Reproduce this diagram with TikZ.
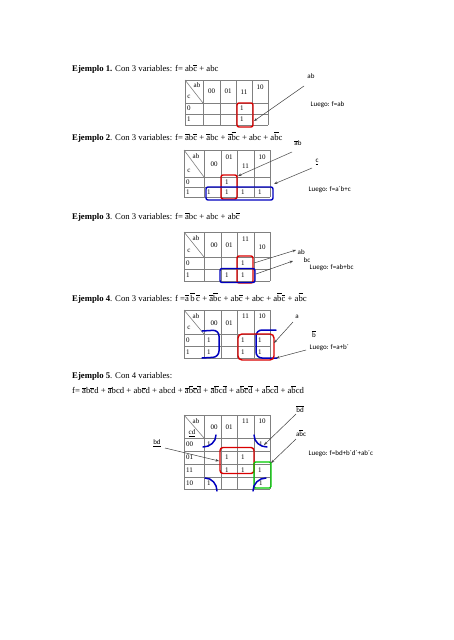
\documentclass[tikz,border=0pt]{standalone}
\usepackage{fontspec}
\setmainfont{Liberation Serif}
\newfontfamily\labfont{Carlito}
\usetikzlibrary{arrows.meta}
\newcommand\ov[1]{$\overline{\hbox{#1}}$}
\begin{document}
\begin{tikzpicture}[x=1pt,y=-1pt,
  gridl/.style={draw=black!50, line width=0.6pt},
  ttl/.style={anchor=west, font=\fontsize{8.7}{10}\selectfont, inner sep=0pt},
  cell/.style={font=\fontsize{7}{8}\selectfont, inner sep=0pt},
  val/.style={font=\fontsize{7}{8}\selectfont, inner sep=0pt, anchor=west},
  lbl/.style={font=\labfont\fontsize{7}{8}\selectfont, inner sep=0.5pt},
  arr/.style={draw=black!75, line width=0.5pt, -{Stealth[length=3.5pt,width=2.6pt]}},
  redbox/.style={draw=red!85!black, line width=1.4pt, rounded corners=2pt},
  bluebox/.style={draw=blue!75!black, line width=1.4pt, rounded corners=2pt},
  greenbox/.style={draw=green!80!black, line width=1.4pt, rounded corners=1.5pt},
  bluec/.style={draw=blue!75!black, line width=1.5pt, line cap=round}]
\useasboundingbox (0,0) rectangle (453,640);
\fill[white] (0,0) rectangle (453,640);

% ---------------- Ejemplo 1 ----------------
\node[ttl] (t1) at (72,69) {\textbf{Ejemplo 1.} Con 3 variables: f= ab\ov{c} + abc};
\foreach \yy in {80,103,114,125} \draw[gridl] (185,\yy) -- (268,\yy);
\foreach \xx in {185,203,220,236,252,268} \draw[gridl] (\xx,80) -- (\xx,125);
\draw[gridl] (185,80) -- (203,103);
\node[cell] (h1ab) at (197,85) {ab};
\node[cell] (h1c) at (189,97) {c};
\node[cell] (h100) at (211.5,91) {00};
\node[cell] (h101) at (228,91) {01};
\node[cell] (h111) at (244,92) {11};
\node[cell] (h110) at (260,87) {10};
\node[val] (r10) at (187,108.5) {0};
\node[val] (r11) at (187,119.5) {1};
\node[val] (v1a) at (240,108.5) {1};
\node[val] (v1b) at (240,119.5) {1};
\node[redbox, minimum width=16pt, minimum height=24pt] (rb1) at (245,115) {};
\node[lbl] (l1) at (311,76) {ab};
\coordinate (s1) at (304,86);
\coordinate (e1) at (254,121);
\draw[arr] (s1) -- (e1);
\node[lbl, anchor=west] (g1) at (310,105) {Luego: f=ab};

% ---------------- Ejemplo 2 ----------------
\node[ttl] (t2) at (72,137) {\textbf{Ejemplo 2}. Con 3 variables: f= \ov{a}b\ov{c} + \ov{a}bc + \ov{a}\ov{b}c + abc + a\ov{b}c};
\foreach \yy in {150,177,187,197} \draw[gridl] (184,\yy) -- (270,\yy);
\foreach \xx in {184,204,221,237,254,270} \draw[gridl] (\xx,150) -- (\xx,197);
\draw[gridl] (184,150) -- (204,177);
\node[cell] (h2ab) at (196,156) {ab};
\node[cell] (h2c) at (189,171) {c};
\node[cell] (h200) at (214,164) {00};
\node[cell] (h201) at (229,157) {01};
\node[cell] (h211) at (245.5,166) {11};
\node[cell] (h210) at (262,157) {10};
\node[val] (r20) at (186,182) {0};
\node[val] (r21) at (186,192) {1};
\node[val] (v2a) at (225,182) {1};
\node[val] (v2b) at (207,192) {1};
\node[val] (v2c) at (225,192) {1};
\node[val] (v2d) at (241,192) {1};
\node[val] (v2e) at (258,192) {1};
\node[redbox, minimum width=16pt, minimum height=24pt] (rb2) at (229,187) {};
\node[bluebox, minimum width=67pt, minimum height=13pt] (bb2) at (239.5,193.5) {};
\node[lbl] (l2a) at (298,143) {\ov{a}b};
\node[lbl] (l2b) at (317,162) {\underline{c}};
\coordinate (s2a) at (292,152);
\coordinate (e2a) at (238,176);
\coordinate (s2b) at (312,168);
\coordinate (e2b) at (274,184);
\draw[arr] (s2a) -- (e2a);
\draw[arr] (s2b) -- (e2b);
\node[lbl, anchor=west] (g2) at (308,190) {Luego: f=a´b+c};

% ---------------- Ejemplo 3 ----------------
\node[ttl] (t3) at (72,217) {\textbf{Ejemplo 3}. Con 3 variables: f= \ov{a}bc + abc + ab\ov{c}};
\foreach \yy in {232,257,269,281} \draw[gridl] (184,\yy) -- (270,\yy);
\foreach \xx in {184,204,221,237,254,270} \draw[gridl] (\xx,232) -- (\xx,281);
\draw[gridl] (184,232) -- (204,257);
\node[cell] (h3ab) at (196,238) {ab};
\node[cell] (h3c) at (189,251) {c};
\node[cell] (h300) at (214,245) {00};
\node[cell] (h301) at (229,245) {01};
\node[cell] (h311) at (245.5,239) {11};
\node[cell] (h310) at (262,247) {10};
\node[val] (r30) at (186,263) {0};
\node[val] (r31) at (186,275) {1};
\node[val] (v3a) at (241,263) {1};
\node[val] (v3b) at (225,275) {1};
\node[val] (v3c) at (241,275) {1};
\node[redbox, minimum width=16pt, minimum height=27pt] (rb3) at (245,269.5) {};
\node[bluebox, minimum width=35pt, minimum height=14pt] (bb3) at (237.5,275.5) {};
\node[lbl, anchor=west] (l3a) at (297,252) {ab};
\node[lbl, anchor=west] (l3b) at (303,260) {bc};
\coordinate (s3a) at (254,263);
\coordinate (e3a) at (296,250);
\coordinate (s3b) at (256,274);
\coordinate (e3b) at (293,261);
\draw[arr] (s3a) -- (e3a);
\draw[arr] (s3b) -- (e3b);
\node[lbl, anchor=west] (g3) at (309,268) {Luego: f=ab+bc};

% ---------------- Ejemplo 4 ----------------
\node[ttl] (t4) at (72,298) {\textbf{Ejemplo 4}. Con 3 variables: f =\ov{a}\,\ov{b}\,\ov{c} + \ov{a}\ov{b}c + ab\ov{c} + abc + a\ov{b}\ov{c} + a\ov{b}c};
\foreach \yy in {310,334,346,358} \draw[gridl] (184,\yy) -- (270,\yy);
\foreach \xx in {184,204,221,237,254,270} \draw[gridl] (\xx,310) -- (\xx,358);
\draw[gridl] (184,310) -- (204,334);
\node[cell] (h4ab) at (196,316) {ab};
\node[cell] (h4c) at (189,328) {c};
\node[cell] (h400) at (214,323) {00};
\node[cell] (h401) at (229,323) {01};
\node[cell] (h411) at (245.5,316) {11};
\node[cell] (h410) at (262,316) {10};
\node[val] (r40) at (186,340) {0};
\node[val] (r41) at (186,352) {1};
\node[val] (v4a) at (207,340) {1};
\node[val] (v4b) at (241,340) {1};
\node[val] (v4c) at (258,340) {1};
\node[val] (v4d) at (207,352) {1};
\node[val] (v4e) at (241,352) {1};
\node[val] (v4f) at (258,352) {1};
\draw[bluec, rounded corners=6pt] (202,331) -- (219,330) -- (219,357) -- (202,358);
\draw[bluec, rounded corners=6pt] (276,330) -- (256,330) -- (256,358) -- (277,358);
\node[redbox, rounded corners=4pt, minimum width=36pt, minimum height=26pt] (rb4) at (256,347) {};
\node[lbl] (l4a) at (297,317) {a};
\node[lbl] (l4b) at (314,334) {\ov{b}};
\coordinate (s4a) at (293,322);
\coordinate (e4a) at (274,343);
\coordinate (s4b) at (306,350);
\coordinate (e4b) at (276,358);
\draw[arr] (s4a) -- (e4a);
\draw[arr] (s4b) -- (e4b);
\node[lbl, anchor=west] (g4) at (309,348) {Luego: f=a+b´};

% ---------------- Ejemplo 5 ----------------
\node[ttl] (t5) at (72,376) {\textbf{Ejemplo 5}. Con 4 variables:};
\node[ttl] (f5) at (72,390) {f= \ov{a}b\ov{c}d + \ov{a}bcd + ab\ov{c}d + abcd + \ov{a}\ov{b}\ov{c}\ov{d} + \ov{a}\ov{b}c\ov{d} + a\ov{b}\ov{c}\ov{d} + a\ov{b}c\ov{d} + a\ov{b}cd};
\foreach \yy in {415,438,451,464,477,489} \draw[gridl] (184,\yy) -- (270,\yy);
\foreach \xx in {184,204,221,237,254,270} \draw[gridl] (\xx,415) -- (\xx,489);
\draw[gridl] (184,415) -- (204,438);
\node[cell] (h5ab) at (196,421) {ab};
\node[cell] (h5cd) at (192,433) {\underline{cd}};
\node[cell] (h500) at (214,427) {00};
\node[cell] (h501) at (229,427) {01};
\node[cell] (h511) at (245.5,421) {11};
\node[cell] (h510) at (262,421) {10};
\node[val] (r500) at (186,444.5) {00};
\node[val] (r501) at (186,457.5) {01};
\node[val] (r511) at (186,470.5) {11};
\node[val] (r510) at (186,483) {10};
\node[val] (v5a) at (207,444.5) {1};
\node[val] (v5b) at (259,444.5) {1};
\node[val] (v5c) at (225,457.5) {1};
\node[val] (v5d) at (241,457.5) {1};
\node[val] (v5e) at (225,470.5) {1};
\node[val] (v5f) at (241,470.5) {1};
\node[val] (v5g) at (258,470.5) {1};
\node[val] (v5h) at (207,483) {1};
\node[val] (v5i) at (259,483) {1};
\node[redbox, rounded corners=3pt, minimum width=34pt, minimum height=26pt] (rb5) at (237,460.5) {};
\node[greenbox, minimum width=17pt, minimum height=26pt] (gb5) at (262.5,475) {};
\draw[bluec] (203,447) to[out=0,in=-90] (216,435);
\draw[bluec] (254,435) to[out=-90,in=180] (267,447);
\draw[bluec] (205,478) to[out=0,in=90] (217,491);
\draw[bluec] (253,491) to[out=90,in=180] (266,478);
\node[lbl] (l5a) at (300,409) {\ov{bd}};
\node[lbl] (l5b) at (157,443) {\underline{bd}};
\node[lbl] (l5c) at (301,433) {a\ov{b}c};
\coordinate (s5a) at (296,414);
\coordinate (e5a) at (264,445);
\coordinate (s5b) at (165,448);
\coordinate (e5b) at (219,461);
\coordinate (s5c) at (296,439);
\coordinate (e5c) at (271,463);
\draw[arr] (s5a) -- (e5a);
\draw[arr] (s5b) -- (e5b);
\draw[arr] (s5c) -- (e5c);
\node[lbl, anchor=west] (g5) at (308,454) {Luego: f=bd+b´d´+ab´c};
\end{tikzpicture}
\end{document}
